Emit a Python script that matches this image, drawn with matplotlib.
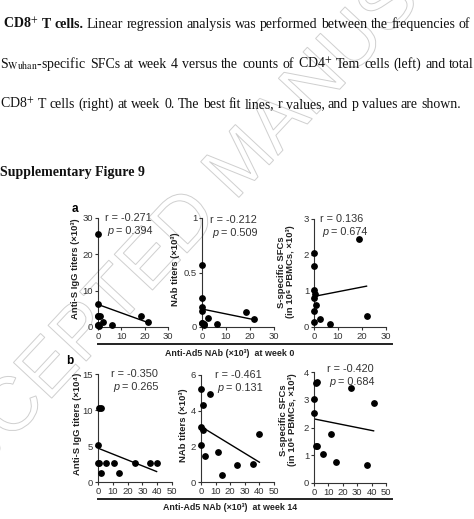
import numpy as np
import matplotlib
matplotlib.use("Agg")
import matplotlib.pyplot as plt
from matplotlib.textpath import TextPath
from matplotlib.patches import PathPatch
from matplotlib.font_manager import FontProperties
from matplotlib.transforms import Affine2D

W, H = 474, 519

# --- valeurs ---
# a : semaine 0 (x = Anti-Ad5 NAb, x10^3)
a1_x = [0, 0, 0, 0.7, 0, 0, 0.5, 2.1, 6.2, 18.5, 21.5, 0]
a1_y = [25.5, 6.3, 3.0, 3.0, 0.5, 0.6, 0.4, 1.4, 0.6, 3.0, 1.4, 3.0]
a2_x = [0, 0, 0, 0, 0, 0.7, 1.0, 2.3, 6.1, 18.5, 21.5, 0]
a2_y = [0.57, 0.27, 0.18, 0.15, 0.04, 0.03, 0.02, 0.08, 0.03, 0.14, 0.07, 0.04]
a3_x = [0, 0, 0, 0.3, 0, 1.0, 0, 2.4, 0, 6.5, 18.8, 21.9]
a3_y = [2.06, 1.70, 1.04, 0.93, 0.80, 0.60, 0.44, 0.23, 0.13, 0.09, 2.44, 0.30]
# b : semaine 14
b1_x = [0.7, 2.0, 0, 0, 1.0, 2.2, 5.6, 10.8, 14.2, 24.8, 35.4, 39.6]
b1_y = [10.3, 10.3, 5.1, 2.6, 2.6, 1.3, 2.6, 2.6, 1.3, 2.6, 2.6, 2.6]
b2_x = [0, 1.4, 6.2, 0, 1.4, 0, 2.5, 11.7, 14.6, 24.7, 35.7, 40.0]
b2_y = [5.2, 4.3, 4.95, 3.07, 2.92, 2.07, 1.43, 1.66, 0.41, 0.95, 0.99, 2.7]
b3_x = [0, 0, 1.2, 2.3, 1.2, 2.3, 6.3, 11.7, 15.2, 25.7, 36.9, 41.4]
b3_y = [3.03, 2.51, 3.6, 3.64, 1.33, 1.33, 1.06, 1.76, 0.76, 3.42, 0.64, 2.88]

# droites de régression (ordonnée à l'origine, pente)
fits = [(6.2, -0.232), (0.165, -0.0045), (0.85, 0.013),
        (4.7, -0.082), (3.11, -0.050), (2.31, -0.0104)]
r_vals = ["-0.271", "-0.212", "0.136", "-0.350", "-0.461", "-0.420"]
p_vals = ["0.394", "0.509", "0.674", "0.265", "0.131", "0.684"]

y_labels = ["Anti-S IgG titers (×10³)", "NAb titers (×10³)",
            "S-specific SFCs\n(in 10⁶ PBMCs, ×10³)",
            "Anti-S IgG titers (×10⁴)", "NAb titers (×10³)",
            "S-specific SFCs\n(in 10⁶ PBMCs, ×10³)"]
y_ticks = [[0, 10, 20, 30], [0, 0.5, 1], [0, 1, 2, 3],
           [0, 5, 10, 15], [0, 2, 4, 6], [0, 1, 2, 3, 4]]
x_ticks_a = [0, 10, 20, 30]
x_ticks_b = [0, 10, 20, 30, 40, 50]

SANS = ["Liberation Sans", "DejaVu Sans"]
SERIF = ["Liberation Serif", "DejaVu Serif"]
plt.rcParams["mathtext.fontset"] = "stix"

fig = plt.figure(figsize=(W / 100, H / 100), dpi=100)
fig.patch.set_facecolor("white")


def P(x, y):
    return x / W, 1 - y / H


# --- filigrane ---
tp = TextPath((0, 0), "ACCEPTED MANUSCRIPT", size=76,
              prop=FontProperties(family="Liberation Sans"))
bb = tp.get_extents()
tr = (Affine2D().translate(-(bb.x0 + bb.x1) / 2, -(bb.y0 + bb.y1) / 2)
      .rotate_deg(47).translate(238, H - 160).scale(1 / W, 1 / H)
      + fig.transFigure)
fig.add_artist(PathPatch(tp, transform=tr, fc="none", ec="#cfcfcf",
                         lw=0.7, zorder=0))

# --- texte de la légende (justifié) ---
renderer = fig.canvas.get_renderer()


def draw_line(words, y, x0, x1=None, size=10):
    arts = []
    for txt, bold in words:
        t = fig.text(*P(x0, y), txt, family=SERIF, size=size,
                     weight="bold" if bold else "normal", va="baseline",
                     color="#111111")
        arts.append(t)
    widths = [a.get_window_extent(renderer).width for a in arts]
    if x1 is None:
        gap = size * 1.39 * 0.25
    else:
        gap = (x1 - x0 - sum(widths)) / (len(arts) - 1)
    x = x0
    for a, w in zip(arts, widths):
        a.set_position(P(x, y))
        x += w + gap


line1 = [("CD8$^{+}$", True), ("T", True), ("cells.", True)] + \
    [(w, False) for w in "Linear regression analysis was performed between the frequencies of".split()]
line2 = [(r"S$_{\mathrm{Wuhan}}$-specific", False)] + \
    [(w, False) for w in "SFCs at week 4 versus the counts of CD4$^{+}$ Tem cells (left) and total".split()]
line3 = [(w, False) for w in "CD8$^{+}$ T cells (right) at week 0. The best fit lines, r values, and p values are shown.".split()]
draw_line(line1, 28, 3, 470)
draw_line(line2, 68, 0, 474)
draw_line(line3, 108, 0)
fig.text(*P(0, 176), "Supplementary Figure 9", family=SERIF, size=10,
         weight="bold", va="baseline", color="#111111")

# --- panneaux ---
panels = [
    (a1_x, a1_y, (98, 168, 218, 327), 30, x_ticks_a),
    (a2_x, a2_y, (202, 274, 218, 327), 30, x_ticks_a),
    (a3_x, a3_y, (314, 386, 219, 327), 30, x_ticks_a),
    (b1_x, b1_y, (98, 172, 374, 482), 50, x_ticks_b),
    (b2_x, b2_y, (201, 274, 375, 482), 50, x_ticks_b),
    (b3_x, b3_y, (314, 386, 372, 483), 50, x_ticks_b),
]
stat_pos = [(105, 218), (210, 220), (320, 219), (111, 374), (215, 375), (327, 369)]
ylab_pos = [(75, 269), (176, 269), (286, 272), (77, 424), (183, 425), (288, 420)]

for i, (xs, ys, (l, r, t, b), xmax, xt) in enumerate(panels):
    ax = fig.add_axes([l / W, 1 - b / H, (r - l) / W, (b - t) / H])
    ax.set_facecolor("none")
    ax.scatter(xs, ys, s=15, color="black", zorder=3, clip_on=False)
    b0, b1 = fits[i]
    xl = np.array([0, max(xs)])
    ax.plot(xl, b0 + b1 * xl, color="black", lw=1.0)
    ax.set_xlim(0, xmax)
    ax.set_ylim(0, y_ticks[i][-1])
    ax.set_xticks(xt)
    ax.set_yticks(y_ticks[i])
    ax.set_yticklabels([f"{v:g}" for v in y_ticks[i]])
    for s in ["top", "right"]:
        ax.spines[s].set_visible(False)
    for s in ["left", "bottom"]:
        ax.spines[s].set_linewidth(0.8)
        ax.spines[s].set_color("#333333")
    ax.tick_params(direction="out", length=2.5, width=0.8, color="#333333",
                   labelsize=6.8, pad=1, labelcolor="#333333")
    for lab in ax.get_xticklabels() + ax.get_yticklabels():
        lab.set_family(SANS)
    sx, sy = stat_pos[i]
    fig.text(*P(sx, sy), f"r = {r_vals[i]}", family=SANS, size=7.8,
             color="#333333", va="center")
    pt = fig.text(*P(sx + 2, sy + 13), "p", family=SANS, size=7.8,
                  style="italic", color="#333333", va="center")
    ax.annotate(f" = {p_vals[i]}", xy=(1, 0), xycoords=pt, va="bottom",
                family=SANS, size=7.8, color="#333333")
    lx, ly = ylab_pos[i]
    fig.text(*P(lx, ly), y_labels[i], family=SANS, size=6.8, weight="bold",
             rotation=90, ha="center", va="center", linespacing=1.05,
             color="#222222")

# --- étiquettes communes ---
for yy, lab in [(344, "Anti-Ad5 NAb (×10³)  at week 0"), (499, "Anti-Ad5 NAb (×10³)  at week 14")]:
    fig.add_artist(plt.Line2D([98 / W, 392 / W], [1 - yy / H] * 2,
                              color="#222222", lw=1.4))
    fig.text(*P(230, yy + 9), lab, family=SANS, size=6.4, weight="bold",
             ha="center", va="center", color="#222222")

fig.text(*P(75, 209), "a", family=SANS, size=8.5, weight="bold", ha="center", va="center")
fig.text(*P(70, 361), "b", family=SANS, size=8.5, weight="bold", ha="center", va="center")

fig.savefig("out.png", dpi=100)
